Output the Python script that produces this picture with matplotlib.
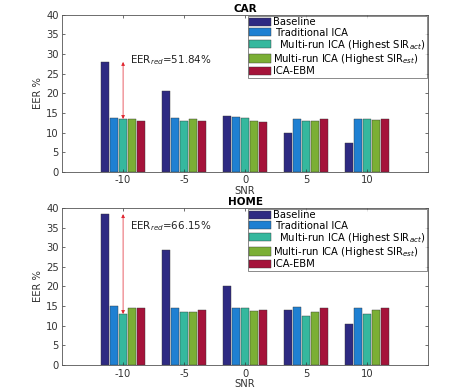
import matplotlib
matplotlib.use("Agg")
import matplotlib.pyplot as plt
import numpy as np

snr_labels = ["-10", "-5", "0", "5", "10"]
series_names = ["Baseline", " Traditional ICA", "  Multi-run ICA (Highest SIR$_{act}$)",
                "Multi-run ICA (Highest SIR$_{est}$)", "ICA-EBM"]
colors = ["#2E2A82", "#1F80D2", "#35B89E", "#7BAF35", "#A5133A"]

car_baseline = [28.0, 20.5, 14.2, 9.9, 7.5]
car_trad = [13.7, 13.8, 14.0, 13.6, 13.6]
car_sir_act = [13.5, 12.9, 13.8, 13.1, 13.6]
car_sir_est = [13.5, 13.5, 13.1, 13.1, 13.3]
car_ebm = [12.9, 12.9, 12.8, 13.5, 13.4]

home_baseline = [38.4, 29.4, 20.1, 14.1, 10.4]
home_trad = [15.1, 14.5, 14.5, 14.7, 14.5]
home_sir_act = [13.0, 13.6, 14.5, 12.6, 13.1]
home_sir_est = [14.5, 13.5, 13.8, 13.4, 14.0]
home_ebm = [14.4, 14.1, 14.1, 14.4, 14.4]

car_label = "EER$_{red}$=51.84%"
home_label = "EER$_{red}$=66.15%"

plt.rcParams['font.family'] = ['DejaVu Sans']
plt.rcParams['mathtext.fontset'] = 'dejavusans'

fig = plt.figure(figsize=(4.74, 3.9), dpi=100)
ax1 = fig.add_axes([0.131, 0.559, 0.772, 0.403])
ax2 = fig.add_axes([0.131, 0.064, 0.772, 0.403])

def draw(ax, data, title, label, text_y):
    x = np.arange(1, len(snr_labels) + 1)
    slot = 0.15
    for i, (vals, name, c) in enumerate(zip(data, series_names, colors)):
        ax.bar(x + (i - 2) * slot, vals, width=0.13, color=c, edgecolor="#333333",
               linewidth=0.3, label=name)
    ax.set_xlim(0, 6)
    ax.set_ylim(0, 40)
    ax.set_yticks(range(0, 41, 5))
    ax.set_xticks(x)
    ax.set_xticklabels(snr_labels)
    ax.tick_params(labelsize=7.2, direction="in", length=2.5, top=True, right=True,
                   width=0.5, colors="#333333", pad=2.5)
    for s in ax.spines.values():
        s.set_linewidth(0.6)
        s.set_color("#555555")
    ax.set_xlabel("SNR", fontsize=7.2, labelpad=0.5, color="#333333")
    ax.set_ylabel("EER %", fontsize=7.2, labelpad=2, color="#333333")
    ax.set_title(title, fontsize=7.5, fontweight="bold", pad=2)
    top = data[0][0]
    bot = data[2][0]
    ax.annotate("", xy=(1.0, bot), xytext=(1.0, top),
                arrowprops=dict(arrowstyle="<|-|>", color="#E0202A", lw=0.5,
                                mutation_scale=5, shrinkA=0, shrinkB=0))
    ax.text(1.11, text_y, label, fontsize=7.4, va="center", ha="left", color="#222222")
    leg = ax.legend(loc="upper right", fontsize=7.2, frameon=True, fancybox=False,
                    borderaxespad=0.1, handlelength=2.2, handleheight=0.9,
                    labelspacing=0.02, handletextpad=0.2, borderpad=0.15)
    leg.get_frame().set_edgecolor("#555555")
    leg.get_frame().set_linewidth(0.6)

draw(ax1, [car_baseline, car_trad, car_sir_act, car_sir_est, car_ebm], "CAR", car_label, 28.5)
draw(ax2, [home_baseline, home_trad, home_sir_act, home_sir_est, home_ebm], "HOME", home_label, 35.3)

fig.savefig("out.png", dpi=100)
